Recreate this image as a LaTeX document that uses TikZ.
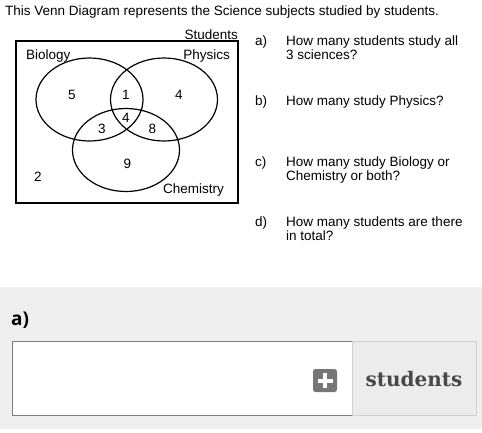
\documentclass[tikz,border=0pt]{standalone}
\usepackage{fontspec}
\setmainfont{Liberation Sans}
\newfontfamily\answerfont{Open Sans}
\newfontfamily\unitfont{DejaVu Serif}
\usetikzlibrary{shapes.geometric}
\definecolor{panel}{RGB}{239,239,239}
\definecolor{boxline}{RGB}{125,125,125}
\definecolor{unitbox}{RGB}{236,236,236}
\definecolor{unitline}{RGB}{208,208,208}
\definecolor{unittext}{RGB}{72,72,72}
\definecolor{plusicon}{RGB}{118,118,118}

\begin{document}
\begin{tikzpicture}[x=1pt,y=-1pt,
    txt/.style={font=\fontsize{13.5}{14}\selectfont,inner sep=0pt},
    venn/.style={draw,line width=1.2pt,ellipse,minimum width=107pt,minimum height=83pt,inner sep=0pt},
    qtext/.style={txt,anchor=base west,align=left}]
    \useasboundingbox (0,0) rectangle (482,432);

    % Titre
    \node[txt,anchor=base west] (title) at (5,15.5) {This Venn Diagram represents the Science subjects studied by students.};

    % Cadre et ensembles
    \draw[line width=1.2pt] (16,41) rectangle (238,203);
    \node[txt,anchor=base east] (univ) at (238,39) {Students};
    \node[venn] (bio) at (89.5,99.5) {};
    \node[venn] (phys) at (164,99.5) {};
    \node[venn] (chem) at (126,150) {};
    \node[txt,anchor=base west] (biolab) at (26,59) {Biology};
    \node[txt,anchor=base east] (physlab) at (230,59) {Physics};
    \node[txt,anchor=base west] (chemlab) at (163,193) {Chemistry};

    % Effectifs
    \node[txt] (nb) at (72,94.5) {5};
    \node[txt] (nbp) at (126,95) {1};
    \node[txt] (np) at (179,94.5) {4};
    \node[txt] (nbpc) at (126,117.5) {4};
    \node[txt] (nbc) at (102,128.5) {3};
    \node[txt] (npc) at (152.5,128.5) {8};
    \node[txt] (nc) at (127.5,163.5) {9};
    \node[txt] (nout) at (38,176.5) {2};

    % Questions (base = derniere ligne)
    \node[qtext] (qa) at (255,45) {a)};
    \node[qtext] (qatext) at (286,59) {How many students study all\\3 sciences?};
    \node[qtext] (qb) at (255,105) {b)};
    \node[qtext] (qbtext) at (286,105) {How many study Physics?};
    \node[qtext] (qc) at (255,166) {c)};
    \node[qtext] (qctext) at (286,180) {How many study Biology or\\Chemistry or both?};
    \node[qtext] (qd) at (255,226) {d)};
    \node[qtext] (qdtext) at (286,240) {How many students are there\\in total?};

    % Zone de réponse
    \fill[panel] (0,287) rectangle (482,429);
    \node[anchor=base west,inner sep=0pt,font=\answerfont\bfseries\fontsize{19}{22}\selectfont] (ans) at (11,325) {a)};
    \draw[boxline,fill=white,line width=1pt] (12,341) rectangle (352,415);
    \draw[unitline,fill=unitbox,line width=1pt] (352,341) rectangle (476,415);
    \node[unittext,font=\unitfont\bfseries\fontsize{20}{24}\selectfont] (unit) at (414,379) {students};
    \fill[plusicon,rounded corners=2.5pt] (313,369) rectangle (337,392);
    \fill[white] (323,373) rectangle (327,388);
    \fill[white] (317.5,378.5) rectangle (332.5,382.5);

\end{tikzpicture}
\end{document}
